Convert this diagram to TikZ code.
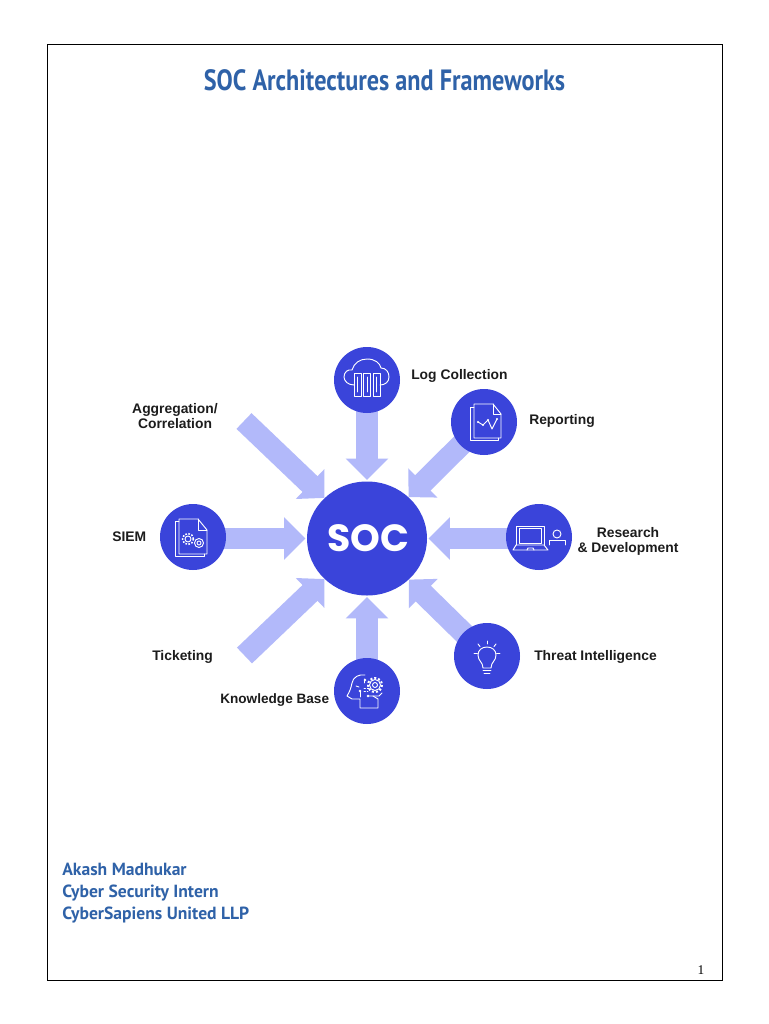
\documentclass[tikz,border=0pt]{standalone}
\usepackage{fontspec}
\setmainfont{Liberation Sans}
\newfontfamily\titlefont[FakeStretch=0.825]{PT Sans}
\newfontfamily\authorfont[FakeStretch=1.0]{PT Sans}
\newfontfamily\socfont{Poppins}
\newfontfamily\numfont{Liberation Serif}
\usetikzlibrary{arrows.meta,shapes.geometric,backgrounds}
\definecolor{hub}{HTML}{3A44DA}
\definecolor{flowc}{HTML}{B2B9FA}
\definecolor{heading}{HTML}{2F62A8}
\definecolor{labelc}{HTML}{1C1C1C}
\tikzset{
  flow/.style={draw=flowc,line width=16.3pt,shorten <=-5pt,shorten >=1pt,
    -{Triangle[width=31pt,length=16pt,fill=flowc]}},
  flowd/.style={draw=flowc,line width=16.3pt,shorten <=-5pt,
    -{Triangle[width=30pt,length=15pt,fill=flowc]}},
  disc/.style={circle,fill=hub,minimum size=49.5pt,inner sep=0pt},
  lab/.style={font=\fontsize{10.4pt}{11.3pt}\selectfont\bfseries,text=labelc,inner sep=0pt,align=center},
  author/.style={font=\authorfont\fontsize{13.2pt}{15pt}\selectfont\bfseries,text=heading,inner sep=0pt,anchor=base west},
  icon/.style={draw=white,line width=0.7pt,line join=round,line cap=round},
  dotw/.style={fill=white,draw=none},
}
\begin{document}
\begin{tikzpicture}[x=0.75pt,y=-0.75pt]
\useasboundingbox (0,0) rectangle (768,1024);
\node[draw=black,line width=0.6pt,minimum width=506.25pt,minimum height=702pt,inner sep=0pt] (frame) at (384.5,512) {};
\node[font=\titlefont\fontsize{22pt}{24pt}\selectfont\bfseries,text=heading,inner sep=0pt,anchor=base] (title) at (384.5,90) {SOC Architectures and Frameworks};

\node[ellipse,fill=hub,minimum width=90pt,minimum height=85.5pt,inner sep=0pt] (soc) at (367,538.5) {};
\node[font=\socfont\fontsize{28.4pt}{30pt}\selectfont\bfseries,text=white,inner sep=0pt] (soct) at (368,538) {SOC};
\node[disc] (log) at (367,380) {};
\node[disc] (rep) at (484,422) {};
\node[disc] (siem) at (193,537) {};
\node[disc] (res) at (539,537) {};
\node[disc] (thr) at (487,656) {};
\node[disc] (know) at (367,691) {};
\coordinate (agg) at (244,421);
\coordinate (tic) at (244.5,655.5);

\begin{scope}[on background layer]
\fill[white] (0,0) rectangle (768,1024);
\draw[flow] (log) -- (soc);
\draw[flow] (know) -- (soc);
\draw[flow] (siem |- soc) -- (soc.west);
\draw[flow] (res |- soc) -- (soc.east);
\draw[flowd] (rep) -- (soc);
\draw[flowd] (thr) -- (soc);
\draw[flowd,shorten <=0pt] (agg) -- (soc);
\draw[flowd,shorten <=0pt] (tic) -- (soc);
\end{scope}

% cloud and servers
\begin{scope}[shift={(log.center)},icon]
\draw (-13,5) .. controls (-19,5) and (-23,1) .. (-23,-3) .. controls (-23,-8) and (-19,-11) .. (-15,-10)
  .. controls (-13,-17) and (-7,-21) .. (0,-21) .. controls (8,-21) and (13,-17) .. (14,-12)
  .. controls (19,-12) and (22,-8) .. (22,-3) .. controls (22,2) and (18,5) .. (13,5);
\foreach \a in {-13,-3.5,6}{
  \draw (\a,-7) rectangle ++(7,23);
  \draw (\a+3.5,-3) -- ++(0,15);
}
\end{scope}
% report
\begin{scope}[shift={(rep.center)},icon]
\draw (-10,-18) -- (9,-18) -- (17,-8) -- (17,16) -- (-10,16) -- cycle;
\draw (9,-18) -- (9,-8) -- (17,-8);
\draw (-10,-15) -- (-14,-15) -- (-14,18) -- (14,18) -- (14,16);
\draw (-6,0) -- (-1,3) -- (4,-2) -- (8,7) -- (13,-3);
\foreach \p in {(-6,0),(-1,3),(4,-2),(13,-3)} \fill[dotw] \p circle[radius=1.2];
\end{scope}
% document with gears
\begin{scope}[shift={(siem.center)},icon]
\draw (-14,-18) -- (5,-18) -- (14,-7) -- (14,17) -- (-14,17) -- cycle;
\draw (5,-18) -- (5,-7) -- (14,-7);
\draw (-14,-16) -- (-18,-16) -- (-18,19) -- (11,19) -- (11,17);
\draw (-5,2) circle[radius=3];
\draw[dash pattern=on 1.2pt off 1.2pt,line width=1.2pt,line cap=butt] (-5,2) circle[radius=5.5];
\draw (6,6) circle[radius=2];
\draw (6,6) circle[radius=4.5];
\end{scope}
% laptop and person
\begin{scope}[shift={(res.center)},icon]
\draw (-23,8) -- (-23,-11) -- (5,-11) -- (5,8);
\draw (-20,6) -- (-20,-9) -- (2,-9) -- (2,6) -- cycle;
\draw (-23,8) -- (-26,13) -- (9,13) -- (5,8) -- cycle;
\draw (-12,13) -- (-11,11) -- (-6,11) -- (-5,13);
\draw (18,-3) circle[radius=4];
\draw (10,8) -- (10,3) -- (26,3) -- (26,8);
\end{scope}
% bulb
\begin{scope}[shift={(thr.center)},icon]
\draw (-4,12) .. controls (-4,6) and (-9,5) .. (-9,-1) .. controls (-9,-6) and (-5,-9) .. (0,-9)
  .. controls (5,-9) and (9,-6) .. (9,-1) .. controls (9,5) and (4,6) .. (4,12) -- cycle;
\draw (-4,14.5) -- (4,14.5);
\draw (-3,17) -- (3,17);
\draw (0,-15) -- (0,-12);
\draw (-9,-12) -- (-7,-9.5);
\draw (9,-12) -- (7,-9.5);
\draw (-13,-3) -- (-9.5,-3) (13,-3) -- (9.5,-3);
\end{scope}
% head and gear
\begin{scope}[shift={(know.center)},icon]
\draw (-2,-16) .. controls (-8,-17) and (-14,-14) .. (-15,-8) .. controls (-16,-3) and (-17,0) .. (-20,5)
  -- (-15,8) -- (-7,8) -- (-7,17) -- (11,17) -- (11,8) -- (6,5);
\draw (-11,-5) -- (-8,-4);
\draw (-3,-12) -- (-3,-8) (-7,0) -- (-7,6);
\fill[dotw] (-7,0) circle[radius=1.3] (-2,-11) circle[radius=1.3] (1,5) circle[radius=1.3];
\draw (1,5) -- (12,5) -- (15,2);
\draw (8,-6) circle[radius=2.5];
\draw (8,-6) circle[radius=5.5];
\draw[dash pattern=on 1.5pt off 1.5pt,line width=1.5pt,line cap=butt] (8,-6) circle[radius=7];
\draw[dash pattern=on 1pt off 1.5pt] (-3,-3) -- (3,-3) (-3,0) -- (1,0);
\end{scope}

\node[lab,anchor=base west] (lLog) at (411,379) {Log Collection};
\node[lab,anchor=base west] (lRep) at (529,424) {Reporting};
\node[lab] (lAgg) at (175,416) {Aggregation/\\Correlation};
\node[lab,anchor=base west] (lSiem) at (112,541) {SIEM};
\node[lab] (lRes) at (628,541) {Research\\\& Development};
\node[lab,anchor=base west] (lThr) at (534,660.5) {Threat Intelligence};
\node[lab,anchor=base west] (lTic) at (152,660.5) {Ticketing};
\node[lab,anchor=base west,font=\fontsize{10.2pt}{11pt}\selectfont\bfseries] (lKnow) at (220,703) {Knowledge Base};

\node[author] (a1) at (62,875) {Akash Madhukar};
\node[author] (a2) at (62,897) {Cyber Security Intern};
\node[author] (a3) at (62,919) {CyberSapiens United LLP};
\node[font=\numfont\fontsize{10pt}{12pt}\selectfont,text=black,inner sep=0pt] (pg) at (701,970) {1};
\end{tikzpicture}
\end{document}
